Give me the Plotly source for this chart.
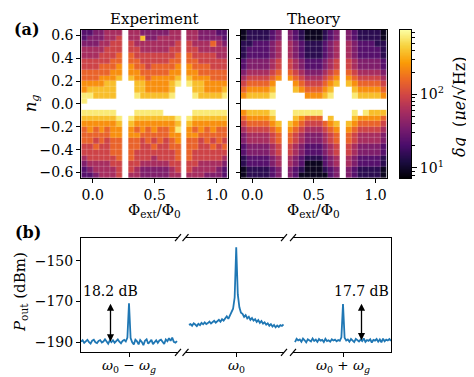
import numpy as np
import plotly.graph_objects as go

W, H = 474, 377
FONT = "DejaVu Serif"

# ---------------- data: panel (a) ----------------
# log10(delta q / (ue/sqrt(Hz))) colour range of the colour bar
LOG_LO, LOG_HI = 0.86, 2.88
phi_ext = list(np.round(np.linspace(-0.0684, 1.0654, 25), 4))   # cell centres, Phi_ext/Phi_0
n_g = list(np.round(np.linspace(0.625, -0.625, 26), 3))          # cell centres, top row first

# levels 0..9 of log10(dq) read from the colours, in three blocks
# (columns 0-6 | 8-16 | 18-24; columns 7 and 17 are saturated);
# '.' = saturated / masked, drawn white
experiment_levels = [
    "2233444 443333344 4433322",
    "2333445 448334444 4433332",
    "3334455 544444445 5444643",
    "4444555 554444455 5544444",
    "4445556 655555556 6555544",
    "5555566 665555566 6655555",
    "5556667 766566667 7666555",
    "6666677 776666677 7766666",
    "6667778 877677778 8777666",
    "777788. .88777789 9887777",
    "788888. .8877778. .887778",
    "998888. .9888889. .988889",
    "9...... ......... .......",
    "....... ......... .......",
    "999999. .99999... .999999",
    "8888889 988888889 9888888",
    "7777778 877777778 8777777",
    "6767677 767676679 7676766",
    "6666677 776666677 7766666",
    "6656566 665656567 6656565",
    "5565566 665565566 6655656",
    "5555566 655555556 6555555",
    "4555556 655545556 6555554",
    "3444455 554444455 5544443",
    "2344445 543333345 5444432",
    "2234445 443333344 4443332",
]
theory_levels = [
    "0111123 321000123 3211110",
    "0111123 321000123 3211110",
    "1122234 432111234 4322211",
    "1222234 432111234 4322221",
    "1222234 432111234 4322221",
    "2333345 543222345 5433332",
    "2333345 543222345 5433332",
    "3444456 654333456 6544443",
    "4555567 765444567 7655554",
    "566667. .76555678 8766665",
    "677778. .8766678. .877776",
    "788889. ...77789. .988887",
    "....... ......... .......",
    "....... ......... .......",
    "788889. .99999... .9.9888",
    "677778. .87666.8. .877776",
    "5666678 876555678 8766665",
    "4555567 765444567 7655554",
    "3444456 654333456 6544443",
    "3444456 654333456 6544443",
    "2333345 543222345 5433332",
    "2333345 543222345 5433332",
    "1222234 432111234 4322221",
    "1222234 432000234 4322221",
    "0111123 321000123 3211110",
    "0111123 320000023 3211110",
]

# ---------------- data: panel (b) ----------------
seg_lower = [  # around w0 - wg  (dBm)
    -189.6, -188.9, -190.2, -189.4, -188.7, -189.8, -190.5, -189.1, -188.6, -189.9,
    -190.3, -189.2, -188.8, -190.0, -189.5, -188.4, -189.7, -190.6, -189.0, -189.8,
    -188.9, -190.1, -189.3, -188.5, -189.6, -190.4, -189.2, -188.7, -189.5, -187.6,
    -170.8, -187.8, -189.9, -191.0, -188.6, -189.4, -190.9, -188.8, -189.7, -191.3,
    -189.1, -188.4, -190.6, -189.3, -188.7, -190.8, -189.5, -188.9, -190.2, -189.0,
    -188.6, -189.8, -190.7, -188.5, -189.4, -187.9, -189.2, -187.6, -189.7, -190.1,
    -189.3]
seg_carrier = [  # around w0
    -181.4, -181.0, -181.8, -180.6, -181.2, -182.0, -180.9, -181.5, -180.4, -181.1,
    -180.2, -181.0, -180.5, -179.8, -180.7, -180.0, -179.4, -180.3, -179.6, -178.9,
    -179.8, -178.6, -179.3, -178.0, -177.2, -178.4, -176.8, -175.9, -173.5, -168.0,
    -143.5, -166.5, -172.8, -175.4, -176.0, -177.5, -176.6, -178.2, -177.4, -178.9,
    -178.0, -179.3, -178.6, -179.9, -179.0, -180.4, -179.5, -180.8, -180.1, -181.3,
    -180.6, -181.8, -181.0, -182.2, -181.4, -182.6, -181.7, -182.4, -181.5, -181.9,
    -181.2]
seg_upper = [  # around w0 + wg
    -189.8, -188.2, -189.0, -188.5, -189.6, -188.1, -188.9, -189.9, -188.4, -188.8,
    -189.5, -188.0, -189.2, -188.6, -189.7, -188.3, -189.1, -188.7, -189.8, -188.2,
    -189.3, -188.9, -189.6, -188.4, -189.0, -188.6, -189.4, -188.8, -189.2, -187.5,
    -171.2, -187.7, -189.0, -188.5, -189.6, -188.3, -189.1, -189.8, -188.2, -188.9,
    -189.5, -188.6, -189.3, -188.0, -189.7, -188.8, -189.2, -188.4, -190.0, -188.7,
    -189.1, -188.3, -189.6, -188.5, -189.9, -188.1, -189.4, -188.6, -189.0, -188.3,
    -189.2]
freq_labels = ["<i>ω</i><sub>0</sub> − <i>ω</i><sub><i>g</i></sub>", "<i>ω</i><sub>0</sub>",
               "<i>ω</i><sub>0</sub> + <i>ω</i><sub><i>g</i></sub>"]
sideband_labels = ["18.2 dB", "17.7 dB"]
sideband_top = [-171.0, -171.0]
sideband_floor = [-190.2, -189.6]
sideband_arrow_x = [-0.37, 0.37]


# ---------------- helpers ----------------
def decode(rows):
    out = []
    for r in rows:
        left, mid, right = r.split()
        full = left[:7].ljust(7, ".") + "." + mid[:9].ljust(9, ".") + "." + right[:7].ljust(7, ".")
        row = []
        for ch in full:
            if ch == ".":
                row.append(np.nan)
            else:
                row.append(LOG_LO + (int(ch) + 0.5) / 10.0 * (LOG_HI - LOG_LO))
        out.append(row)
    return out


def fx(p):
    return p / W


def fy(p):
    return 1 - p / H


fig = go.Figure()

for z_rows, xa, ya in [(experiment_levels, "x", "y"), (theory_levels, "x2", "y2")]:
    fig.add_trace(go.Heatmap(
        z=decode(z_rows), x=phi_ext, y=n_g, coloraxis="coloraxis",
        xaxis=xa, yaxis=ya, xgap=0.2, ygap=0.2, hoverinfo="skip"))

ramp = np.linspace(LOG_LO, LOG_HI, 256)
fig.add_trace(go.Heatmap(z=[[v] for v in ramp], x=[0], y=ramp, coloraxis="coloraxis",
                         xaxis="x3", yaxis="y3", hoverinfo="skip"))

blue = "#1f77b4"
for ydat, n in [(seg_lower, 4), (seg_carrier, 5), (seg_upper, 6)]:
    xx = np.linspace(-0.96, 0.96, len(ydat))
    fig.add_trace(go.Scatter(x=xx, y=ydat, mode="lines", line=dict(color=blue, width=1.8),
                             xaxis=f"x{n}", yaxis=f"y{n}", showlegend=False, hoverinfo="skip"))

tickfont = dict(family=FONT, size=14, color="black")
base = dict(showline=True, linecolor="black", linewidth=1, mirror=True, ticks="outside",
            ticklen=4, tickwidth=1, tickcolor="black", showgrid=False, zeroline=False,
            tickfont=tickfont)

hm_y = [fy(170), fy(20)]
phi_rng = [-0.092, 1.089]
ng_ticks = [-0.6, -0.4, -0.2, 0.0, 0.2, 0.4, 0.6]
ng_text = [f"{v:.1f}".replace("-", "−") for v in ng_ticks]

layout = dict(
    width=W, height=H, margin=dict(l=0, r=0, t=0, b=0),
    paper_bgcolor="white", plot_bgcolor="white", showlegend=False,
    font=dict(family=FONT, size=14, color="black"),
    coloraxis=dict(colorscale="Inferno", cmin=LOG_LO, cmax=LOG_HI, showscale=False),
    xaxis=dict(base, domain=[fx(73.3), fx(219.7)], range=phi_rng, tickvals=[0, 0.5, 1.0],
               ticktext=["0.0", "0.5", "1.0"], anchor="y"),
    yaxis=dict(base, domain=hm_y, range=[-0.65, 0.65], tickvals=ng_ticks, ticktext=ng_text, anchor="x"),
    xaxis2=dict(base, domain=[fx(232.8), fx(378.5)], range=phi_rng, tickvals=[0, 0.5, 1.0],
                ticktext=["0.0", "0.5", "1.0"], anchor="y2"),
    yaxis2=dict(base, domain=hm_y, range=[-0.65, 0.65], tickvals=ng_ticks, showticklabels=False, anchor="x2"),
    xaxis3=dict(base, domain=[fx(392), fx(403)], range=[-0.5, 0.5], ticks="", showticklabels=False, anchor="y3"),
    yaxis3=dict(base, domain=hm_y, range=[LOG_LO, LOG_HI], side="right", tickvals=[1, 2],
                ticktext=["10<sup>1</sup>", "10<sup>2</sup>"], ticklen=5, anchor="x3",
                minor=dict(tickvals=list(np.log10([7, 8, 9, 20, 30, 40, 50, 60, 70, 80, 90,
                                                    200, 300, 400, 500, 600, 700])),
                           ticklen=2.5, ticks="outside", tickcolor="black", tickwidth=1)),
)

b_y = [fy(346), fy(230)]
y_rng = [-194.8, -138.7]
layout["xaxis4"] = dict(base, domain=[fx(73), fx(170)], range=[-0.96, 0.98], tickvals=[0],
                        showticklabels=False, anchor="y4")
layout["yaxis4"] = dict(base, domain=b_y, range=y_rng, mirror=False, tickvals=[-190, -170, -150],
                        ticktext=["−190", "−170", "−150"], anchor="x4")
layout["xaxis5"] = dict(base, domain=[fx(177.5), fx(276)], range=[-1.03, 0.97], tickvals=[0],
                        showticklabels=False, anchor="y5")
layout["yaxis5"] = dict(domain=b_y, range=y_rng, showline=False, showticklabels=False, ticks="",
                        showgrid=False, zeroline=False, anchor="x5")
layout["xaxis6"] = dict(base, domain=[fx(285), fx(383)], range=[-1.0, 0.96], tickvals=[0],
                        showticklabels=False, anchor="y6")
layout["yaxis6"] = dict(domain=b_y, range=y_rng, side="right", showline=True, linecolor="black", linewidth=1,
                        mirror=False, showticklabels=False, ticks="", showgrid=False, zeroline=False, anchor="x6")
fig.update_layout(**layout)

ann = []
def txt(x, y, s, size=14, angle=0):
    ann.append(dict(x=fx(x), y=fy(y), xref="paper", yref="paper", text=s, showarrow=False,
                    textangle=angle, font=dict(family=FONT, size=size, color="black"),
                    xanchor="center", yanchor="middle"))

txt(19, 20, "<b>(a)</b>", 16)
txt(20, 225, "<b>(b)</b>", 16)
txt(146.5, 9, "Experiment", 15)
txt(305.7, 9, "Theory", 15)
txt(146.5, 203, "Φ<sub>ext</sub>/Φ<sub>0</sub>", 15)
txt(305.7, 203, "Φ<sub>ext</sub>/Φ<sub>0</sub>", 15)
txt(24, 95, "<i>n</i><sub><i>g</i></sub>", 16, -90)
txt(452, 98, "<i>δq</i>  (<i>μe</i>/√Hz)", 16, -90)
txt(13, 285, "<i>P</i><sub>out</sub> (dBm)", 15, -90)

# frequency tick labels of panel (b)
for lab, xr in zip(freq_labels, ["x4", "x5", "x6"]):
    ann.append(dict(x=0, y=fy(371), xref=xr, yref="paper", text=lab, showarrow=False,
                    font=dict(family=FONT, size=13.5, color="black"), xanchor="center", yanchor="bottom"))

for i, (xr, yr) in enumerate([("x4", "y4"), ("x6", "y6")]):
    ann.append(dict(x=sideband_arrow_x[i], y=sideband_top[i], ax=sideband_arrow_x[i], ay=sideband_floor[i],
                    xref=xr, yref=yr, axref=xr, ayref=yr, text="", showarrow=True,
                    arrowhead=2, startarrowhead=2, arrowside="end+start", arrowsize=1.1,
                    startarrowsize=1.1, arrowwidth=1.3, arrowcolor="black", standoff=0, startstandoff=0))
    ann.append(dict(x=sideband_arrow_x[i], y=-164.6, xref=xr, yref=yr, text=sideband_labels[i],
                    showarrow=False, font=dict(family=FONT, size=14, color="black"),
                    xanchor="center", yanchor="middle"))
fig.update_layout(annotations=ann)

# broken-axis marks
shapes = []
for xe in [170, 177.5, 276, 285]:
    for ye in [230, 346]:
        shapes.append(dict(type="line", xref="paper", yref="paper",
                           x0=fx(xe - 3), y0=fy(ye + 3.5), x1=fx(xe + 3), y1=fy(ye - 3.5),
                           line=dict(color="black", width=1.2)))
fig.update_layout(shapes=shapes)

fig.write_html("out.html")
